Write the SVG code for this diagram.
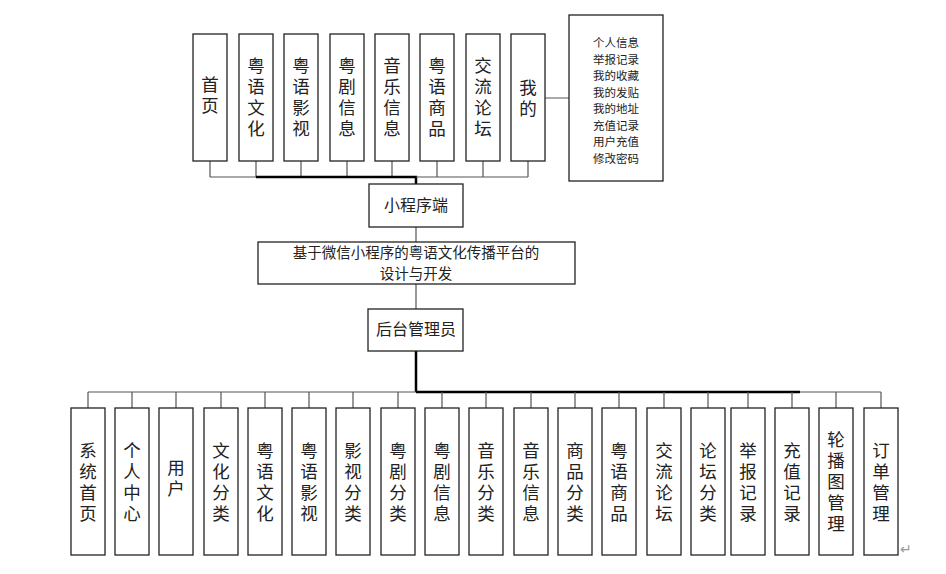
<svg xmlns="http://www.w3.org/2000/svg" width="946" height="574" viewBox="0 0 946 574">
<style>
rect{fill:#fff;stroke:#222;stroke-width:1.3}
text{font-family:"Noto Sans CJK SC","Liberation Serif",serif;fill:#222;text-anchor:middle}
.v{font-size:17.5px;writing-mode:vertical-rl;letter-spacing:3.5px}
.s{font-size:11.5px}
.m{font-size:16px}
.m2{font-size:14.5px}
.t{stroke:#555;stroke-width:1.2;fill:none}
.k{stroke:#000;stroke-width:2.5;fill:none}
</style>
<rect width="946" height="574" style="fill:#fff;stroke:none"/>
<g id="connectors">
<path class="t" d="M210 161V177M256 161V177M301 161V177M347 161V177M392 161V177M437 161V177M483 161V177M528 161V177M545 98H569"/>
<path class="k" d="M256 177H416V184"/>
<path class="t" d="M210 177H256M416 177H528"/>
<path class="t" d="M416 227V242M416 284V309"/>
<path class="k" d="M416 351V392M416 392H800"/>
<path class="t" d="M88 392H416M800 392H881"/>
<path class="t" d="M88 392V408M132 392V408M176 392V408M221 392V408M265 392V408M309 392V408M353 392V408M398 392V408M442 392V408M486 392V408M531 392V408M575 392V408M619 392V408M664 392V408M708 392V408M748 392V408M792 392V408M836 392V408M881 392V408"/>
</g>
<g id="top-nodes">
<g id="n1"><rect x="193" y="34" width="34" height="127"/><text class="v" x="210" y="97">首页</text></g>
<g id="n2"><rect x="239" y="34" width="34" height="127"/><text class="v" x="256" y="99">粤语文化</text></g>
<g id="n3"><rect x="284" y="34" width="34" height="127"/><text class="v" x="301" y="99">粤语影视</text></g>
<g id="n4"><rect x="330" y="34" width="34" height="127"/><text class="v" x="347" y="99">粤剧信息</text></g>
<g id="n5"><rect x="375" y="34" width="34" height="127"/><text class="v" x="392" y="99">音乐信息</text></g>
<g id="n6"><rect x="420" y="34" width="34" height="127"/><text class="v" x="437" y="99">粤语商品</text></g>
<g id="n7"><rect x="466" y="34" width="34" height="127"/><text class="v" x="483" y="99">交流论坛</text></g>
<g id="n8"><rect x="511" y="34" width="34" height="127"/><text class="v" x="528" y="100">我的</text></g>
<g id="n9"><rect x="569" y="15" width="94" height="166"/>
<text class="s"><tspan x="616" y="47">个人信息</tspan><tspan x="616" y="63.5">举报记录</tspan><tspan x="616" y="80">我的收藏</tspan><tspan x="616" y="96.5">我的发贴</tspan><tspan x="616" y="113">我的地址</tspan><tspan x="616" y="129.5">充值记录</tspan><tspan x="616" y="146">用户充值</tspan><tspan x="616" y="162.5">修改密码</tspan></text></g>
</g>
<g id="mini"><rect x="369" y="184" width="94" height="43"/><text class="m" x="416" y="211">小程序端</text></g>
<g id="root"><rect x="258" y="242" width="317" height="42"/><text class="m2" x="416" y="258">基于微信小程序的粤语文化传播平台的</text><text class="m2" x="416" y="279">设计与开发</text></g>
<g id="admin"><rect x="368" y="309" width="95" height="42"/><text class="m" x="416" y="335">后台管理员</text></g>
<g id="bottom-nodes">
<g><rect x="71" y="408" width="34" height="147"/><text class="v" x="88" y="484">系统首页</text></g>
<g><rect x="115" y="408" width="34" height="147"/><text class="v" x="132" y="484">个人中心</text></g>
<g><rect x="159" y="408" width="34" height="147"/><text class="v" x="176" y="480">用户</text></g>
<g><rect x="204" y="408" width="34" height="147"/><text class="v" x="221" y="484">文化分类</text></g>
<g><rect x="248" y="408" width="34" height="147"/><text class="v" x="265" y="484">粤语文化</text></g>
<g><rect x="292" y="408" width="34" height="147"/><text class="v" x="309" y="484">粤语影视</text></g>
<g><rect x="336" y="408" width="34" height="147"/><text class="v" x="353" y="484">影视分类</text></g>
<g><rect x="381" y="408" width="34" height="147"/><text class="v" x="398" y="484">粤剧分类</text></g>
<g><rect x="425" y="408" width="34" height="147"/><text class="v" x="442" y="484">粤剧信息</text></g>
<g><rect x="469" y="408" width="34" height="147"/><text class="v" x="486" y="484">音乐分类</text></g>
<g><rect x="514" y="408" width="34" height="147"/><text class="v" x="531" y="484">音乐信息</text></g>
<g><rect x="558" y="408" width="34" height="147"/><text class="v" x="575" y="484">商品分类</text></g>
<g><rect x="602" y="408" width="34" height="147"/><text class="v" x="619" y="484">粤语商品</text></g>
<g><rect x="647" y="408" width="34" height="147"/><text class="v" x="664" y="484">交流论坛</text></g>
<g><rect x="691" y="408" width="34" height="147"/><text class="v" x="708" y="484">论坛分类</text></g>
<g><rect x="731" y="408" width="34" height="147"/><text class="v" x="748" y="484">举报记录</text></g>
<g><rect x="775" y="408" width="34" height="147"/><text class="v" x="792" y="484">充值记录</text></g>
<g><rect x="819" y="408" width="34" height="147"/><text class="v" x="836" y="483">轮播图管理</text></g>
<g><rect x="864" y="408" width="34" height="147"/><text class="v" x="881" y="484">订单管理</text></g>
</g>
<text x="906" y="554" style="font-size:14px;fill:#999">↵</text>
</svg>
